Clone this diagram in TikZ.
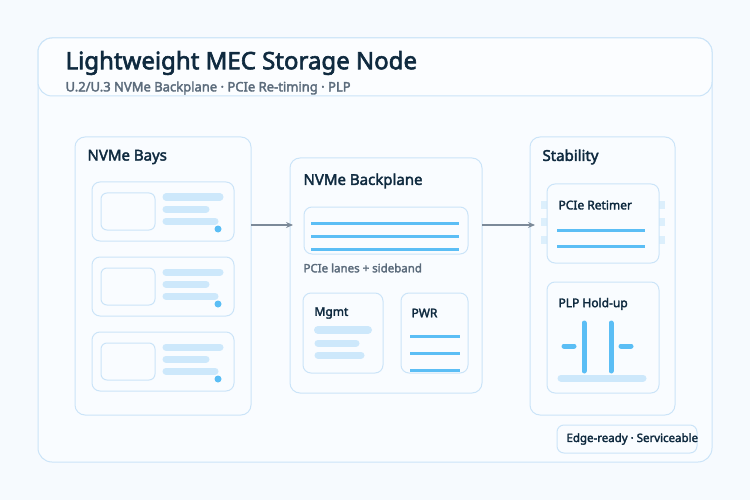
\documentclass[tikz,border=0pt]{standalone}
\usepackage{fontspec}
\setmainfont{Noto Sans}[BoldFont={Noto Sans},BoldFeatures={FakeBold=2.5}]
\usetikzlibrary{arrows.meta}
\begin{document}
\definecolor{bg}{HTML}{F6FAFE}
\definecolor{bd}{HTML}{CBE4F8}
\definecolor{pf}{HTML}{F9FCFF}
\definecolor{lb}{HTML}{CDE8FB}
\definecolor{bl}{HTML}{5BBEF5}
\definecolor{dk}{HTML}{0F2A3F}
\definecolor{gy}{HTML}{5B6B7B}
\definecolor{ar}{HTML}{7C8A99}
\begin{tikzpicture}[x=1pt,y=-1pt,
  panel/.style={draw=bd,fill=pf,line width=1pt,rounded corners=10pt},
  card/.style={draw=bd,fill=pf,line width=1pt,rounded corners=8pt},
  ttl/.style={anchor=west,text=dk,font=\bfseries\fontsize{15}{18}\selectfont},
  sttl/.style={anchor=west,text=dk,font=\bfseries\fontsize{12}{14}\selectfont},
  bar/.style={line width=7pt,lb,line cap=round},
  ln/.style={line width=3pt,bl},
  conn/.style={draw=ar,line width=1.5pt,-{Stealth[length=7pt,width=6pt]}}]
\fill[bg] (0,0) rectangle (750,500);
\useasboundingbox (0,0) rectangle (750,500);
\draw[panel,rounded corners=14pt] (38,38) rectangle (712,462);
\draw[panel,rounded corners=14pt,fill=bg!40!white] (38,38) rectangle (712,96);
\node[anchor=west,text=dk,font=\bfseries\fontsize{24}{28}\selectfont] (title) at (62,63) {Lightweight MEC Storage Node};
\node[anchor=west,text=gy,font=\bfseries\fontsize{13}{15}\selectfont] (sub) at (62,88) {U.2/U.3 NVMe Backplane · PCIe Re-timing · PLP};
% Bays
\draw[panel] (75,137) rectangle (251,415);
\node[ttl] (bt) at (84,157) {NVMe Bays};
\foreach \y in {182,257,332}{
  \draw[card] (92,\y) rectangle (234,\y+59);
  \draw[draw=bd,line width=1pt,rounded corners=6pt] (101,\y+11) rectangle (155,\y+48);
  \draw[bar] (166,\y+15) -- (220,\y+15);
  \draw[bar] (166,\y+27) -- (206,\y+27);
  \draw[bar] (166,\y+39) -- (215,\y+39);
  \fill[bl] (218,\y+47) circle (3.5);
}
% Backplane
\draw[panel] (290,158) rectangle (482,393);
\node[ttl] (bpt) at (300,181) {NVMe Backplane};
\draw[card] (304,207) rectangle (468,254);
\foreach \y in {223,236,249} \draw[ln] (311,\y) -- (459,\y);
\node[anchor=west,text=gy,font=\bfseries\fontsize{11.5}{14}\selectfont] (lanes) at (300,268) {PCIe lanes + sideband};
\draw[card] (303,293) rectangle (383,373);
\node[sttl] (mg) at (311,313) {Mgmt};
\draw[bar,line width=8pt] (318,330) -- (368,330);
\draw[bar] (318,343) -- (356,343);
\draw[bar] (318,355) -- (361,355);
\draw[card] (401,293) rectangle (468,373);
\node[sttl] (pw) at (408,313) {PWR};
\foreach \y in {336,353,370} \draw[ln] (410,\y) -- (460,\y);
% Stability
\draw[panel] (530,137) rectangle (675,415);
\node[ttl] (st) at (539,157) {Stability};
\foreach \y in {205,222,240}{
  \fill[lb!70!white] (541,\y-4) rectangle (550,\y+4);
  \fill[lb!70!white] (656,\y-4) rectangle (665,\y+4);
}
\draw[card] (547,184) rectangle (659,263);
\node[sttl] (rt) at (555,205) {PCIe Retimer};
\foreach \y in {230,246} \draw[ln] (557,\y) -- (645,\y);
\draw[card] (547,282) rectangle (659,393);
\node[sttl] (plp) at (555,304) {PLP Hold-up};
\draw[line width=5pt,bl,line cap=round] (584,323) -- (584,371);
\draw[line width=5pt,bl,line cap=round] (611,323) -- (611,371);
\draw[line width=5pt,bl,line cap=round] (564,346) -- (574,346);
\draw[line width=5pt,bl,line cap=round] (621,346) -- (631,346);
\draw[bar] (561,378) -- (643,378);
% badge
\draw[card,rounded corners=7pt] (557,425) rectangle (697,453);
\node[sttl,font=\bfseries\fontsize{11.5}{14}\selectfont] (badge) at (563,439) {Edge-ready · Serviceable};
% connectors
\coordinate (a1) at (251,225); \coordinate (a2) at (293,225);
\coordinate (b1) at (482,225); \coordinate (b2) at (535,225);
\draw[conn] (a1) -- (a2);
\draw[conn] (b1) -- (b2);
\end{tikzpicture}
\end{document}
